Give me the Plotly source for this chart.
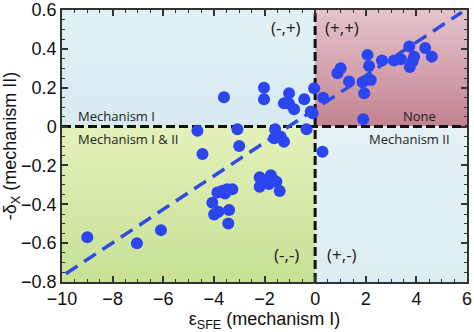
import plotly.graph_objects as go

# Data points (eps_SFE, -delta_X)
eps_sfe = [-9.0, -7.04, -6.09,
           -4.06, -3.86, -3.66, -3.47, -3.27, -3.56, -3.99, -3.82, -3.40, -3.43,
           -2.19, -2.19, -1.95, -1.75, -1.66, -1.53, -1.40, -1.82,
           -3.60, -4.65, -4.45, -2.02, -2.02, -1.03, -1.23, -1.03, -0.83, -0.43, -0.04, -0.17, -0.10,
           -3.07, -3.00, -1.58, -1.62, -1.36, -1.23, -0.34, 0.29, 0.32,
           0.88, 1.01, 1.34, 1.87, 1.94, 1.90, 2.07, 2.13, 2.20, 2.64, 3.12, 3.39, 3.72, 3.91,
           3.85, 3.74, 4.35, 4.61]
delta_x = [-0.57, -0.60, -0.533,
           -0.392, -0.339, -0.33, -0.323, -0.323, -0.344, -0.452, -0.438, -0.43, -0.499,
           -0.261, -0.31, -0.284, -0.25, -0.272, -0.284, -0.332, -0.296,
           0.151, -0.021, -0.141, 0.20, 0.141, 0.172, 0.12, 0.117, 0.089, 0.141, 0.197, 0.077, 0.068,
           -0.014, -0.10, -0.014, -0.06, -0.052, -0.078, -0.014, -0.13, 0.148,
           0.275, 0.30, 0.232, 0.228, 0.172, 0.038, 0.369, 0.312, 0.24, 0.34, 0.34, 0.347, 0.412, 0.36,
           0.335, 0.306, 0.404, 0.36]

# Linear fit line endpoints (x range of fit)
fit_x = [-9.85, 5.8]
fit_slope = 0.086
fit_intercept = 0.09

x_range = [-10, 6]
y_range = [-0.8, 0.6]

quad_labels = ["(-,+)", "(+,+)", "(-,-)", "(+,-)"]
quad_label_x = [-1.15, 1.07, -1.15, 1.07]
quad_label_y = [0.51, 0.51, -0.66, -0.66]

fig = go.Figure()

def quad(x0, x1, y0, y1, c_bottom, c_top):
    fig.add_trace(go.Scatter(
        x=[x0, x1, x1, x0, x0], y=[y0, y0, y1, y1, y0],
        mode="lines", line=dict(width=0), fill="toself",
        fillgradient=dict(type="vertical", colorscale=[[0, c_bottom], [1, c_top]]),
        hoverinfo="skip", showlegend=False))

quad(x_range[0], 0, 0, y_range[1], "#d6eaf0", "#e2f1f6")
quad(0, x_range[1], 0, y_range[1], "#c38290", "#e5c4cb")
quad(x_range[0], 0, y_range[0], 0, "#c8e195", "#e3f1bb")
quad(0, x_range[1], y_range[0], 0, "#dcedf1", "#e4f2f5")

# dashed quadrant divider lines
fig.add_trace(go.Scatter(x=x_range, y=[0, 0], mode="lines",
                         line=dict(color="#111111", width=3, dash="9px,4px"),
                         hoverinfo="skip", showlegend=False))
fig.add_trace(go.Scatter(x=[0, 0], y=y_range, mode="lines",
                         line=dict(color="#111111", width=3, dash="9px,4px"),
                         hoverinfo="skip", showlegend=False))

# fit line
fit_y = [fit_slope * v + fit_intercept for v in fit_x]
fig.add_trace(go.Scatter(x=fit_x, y=fit_y, mode="lines",
                         line=dict(color="#2f4ce0", width=3.5, dash="14px,8px"),
                         showlegend=False))

# points
fig.add_trace(go.Scatter(x=eps_sfe, y=delta_x, mode="markers",
                         marker=dict(color="#2b45f0", size=12, line=dict(width=0)),
                         showlegend=False))

# quadrant sign labels
for t, lx, ly in zip(quad_labels, quad_label_x, quad_label_y):
    fig.add_annotation(x=lx, y=ly, text=t, showarrow=False,
                       font=dict(family="Open Sans, Liberation Sans, sans-serif", size=17, color="#222"))

mech_font = dict(family="Open Sans, Liberation Sans, sans-serif", size=13, color="#222")
fig.add_annotation(x=-9.45, y=0.055, text="Mechanism I", showarrow=False, xanchor="left", font=mech_font)
fig.add_annotation(x=-9.45, y=-0.064, text="Mechanism I &amp; II", showarrow=False, xanchor="left", font=mech_font)
fig.add_annotation(x=4.85, y=0.055, text="None", showarrow=False, xanchor="right", font=mech_font)
fig.add_annotation(x=5.4, y=-0.064, text="Mechanism II", showarrow=False, xanchor="right", font=mech_font)

axis_common = dict(showgrid=False, zeroline=False, showline=True, linecolor="#333", linewidth=1.5,
                   mirror="allticks", ticks="inside", ticklen=6, tickwidth=1.5, tickcolor="#333",
                   automargin=False,
                   tickfont=dict(family="Liberation Sans, Arial, sans-serif", size=18, color="#111"))

fig.update_xaxes(range=x_range, dtick=2, tick0=-10,
                 minor=dict(dtick=0.5, ticks="inside", ticklen=3, tickcolor="#333", tickwidth=1.2),
                 title=dict(text="ε<sub>SFE</sub> (mechanism I)", standoff=6,
                            font=dict(family="Liberation Sans, Arial, sans-serif", size=18, color="#111")),
                 **axis_common)
fig.update_yaxes(range=y_range, dtick=0.2, tick0=-0.8, tickformat=".1~f",
                 minor=dict(dtick=0.05, ticks="inside", ticklen=3, tickcolor="#333", tickwidth=1.2),
                 title=dict(text="-δ<sub>X</sub> (mechanism II)", standoff=4,
                            font=dict(family="Liberation Sans, Arial, sans-serif", size=18, color="#111")),
                 **axis_common)

fig.update_layout(width=474, height=332, margin=dict(l=62, r=7, t=10, b=50),
                  paper_bgcolor="white", plot_bgcolor="white", showlegend=False)

fig.write_html("out.html")
